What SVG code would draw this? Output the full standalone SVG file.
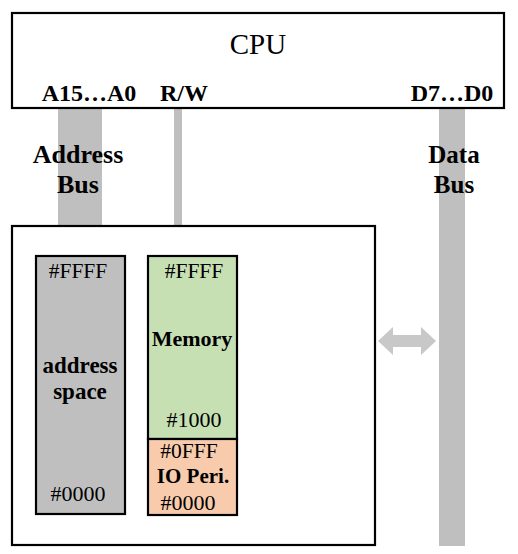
<svg xmlns="http://www.w3.org/2000/svg" width="518" height="554" viewBox="0 0 518 554">
<style>
.box{stroke:#000;stroke-width:2.2;}
.t{font-family:"Liberation Serif","Times New Roman",serif;fill:#000;text-anchor:middle;}
.b{font-weight:bold;}
.bus{fill:#bfbfbf;}
</style>
<rect width="518" height="554" fill="#fff"/>
<g id="connectors">
  <rect class="bus" x="58" y="109" width="44" height="117"/>
  <rect class="bus" x="174" y="109" width="8" height="117"/>
  <rect class="bus" x="439" y="109" width="26" height="437"/>
  <polygon fill="#c8c8c8" points="378,341 393,327 393,335 421,335 421,327 436,341 421,355 421,347 393,347 393,355"/>
  <text class="t b" x="78" y="163" font-size="26">Address</text>
  <text class="t b" x="78" y="193" font-size="26">Bus</text>
  <text class="t b" x="454" y="163" font-size="25">Data</text>
  <text class="t b" x="454" y="193" font-size="25">Bus</text>
</g>
<g id="cpu">
  <rect class="box" x="12" y="13" width="492" height="95" fill="#fff"/>
  <text class="t" x="258" y="54" font-size="29">CPU</text>
  <text class="t b" x="89" y="101" font-size="24">A15…A0</text>
  <text class="t b" x="184" y="101" font-size="24">R/W</text>
  <text class="t b" x="452" y="101" font-size="24">D7…D0</text>
</g>
<g id="memory-system">
  <rect class="box" x="12" y="226" width="363" height="319" fill="none"/>
</g>
<g id="address-space">
  <rect class="box" x="36" y="256" width="89" height="258" fill="#bfbfbf"/>
  <text class="t" x="78" y="278" font-size="21.5">#FFFF</text>
  <text class="t b" x="80" y="373" font-size="23">address</text>
  <text class="t b" x="80" y="399" font-size="23">space</text>
  <text class="t" x="78" y="501" font-size="22">#0000</text>
</g>
<g id="memory">
  <rect class="box" x="148" y="256" width="89" height="183" fill="#c6e0b4"/>
  <text class="t" x="194" y="278" font-size="21.5">#FFFF</text>
  <text class="t b" x="192" y="346" font-size="22">Memory</text>
  <text class="t" x="194" y="427" font-size="22">#1000</text>
</g>
<g id="io">
  <rect class="box" x="148" y="439" width="89" height="76" fill="#f8cbad"/>
  <text class="t" x="189" y="458" font-size="21.5">#0FFF</text>
  <text class="t b" x="193" y="483" font-size="21">IO Peri.</text>
  <text class="t" x="188" y="510" font-size="22">#0000</text>
</g>
</svg>
